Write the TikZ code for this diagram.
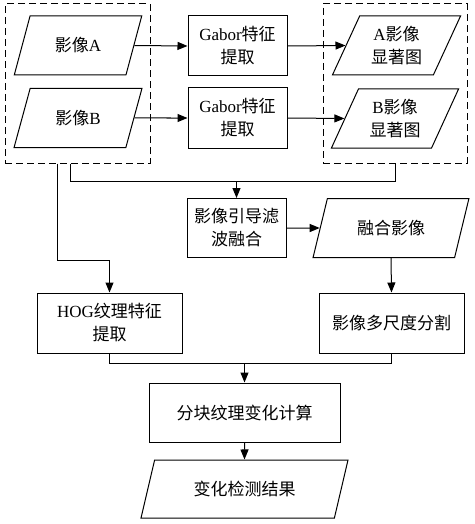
\documentclass[tikz,border=0pt]{standalone}
\usepackage{fontspec}
\setmainfont{Liberation Serif}
\newfontfamily\cjk{Noto Sans CJK SC}
\usetikzlibrary{shapes.geometric,arrows.meta}
\tikzset{
  base/.style={draw, line width=1pt, align=center, inner sep=0pt, font=\fontsize{17}{23}\selectfont},
  procbox/.style={base, rectangle},
  databox/.style={base, trapezium, trapezium left angle=64, trapezium right angle=116, trapezium stretches=true},
  groupbox/.style={draw, line width=1pt, dash pattern=on 7pt off 4pt, rectangle, inner sep=0pt},
  conn/.style={line width=1pt},
  arr/.style={conn, -{Triangle[length=10pt,width=8pt]}}
}
\begin{document}
\begin{tikzpicture}[x=1pt,y=-1pt]
\useasboundingbox (0,0) rectangle (474,524);
% groups
\node[groupbox, minimum width=145pt, minimum height=159pt] (L) at (77.5,83.5) {};
\node[groupbox, minimum width=144pt, minimum height=159pt] (R) at (395,83.5) {};
% inputs
\node[databox, minimum width=128pt, minimum height=59pt] (pA) at (78,45.5) {{\cjk 影像}A};
\node[databox, minimum width=128pt, minimum height=59pt] (pB) at (78,118) {{\cjk 影像}B};
% gabor
\node[procbox, minimum width=99pt, minimum height=60pt] (gA) at (237.5,46) {Gabor{\cjk 特征}\\{\cjk 提取}};
\node[procbox, minimum width=99pt, minimum height=60pt] (gB) at (237.5,118) {Gabor{\cjk 特征}\\{\cjk 提取}};
% saliency
\node[databox, minimum width=129pt, minimum height=59pt] (sA) at (396.5,45.5) {A{\cjk 影像}\\{\cjk 显著图}};
\node[databox, minimum width=128pt, minimum height=59pt] (sB) at (395,118.5) {B{\cjk 影像}\\{\cjk 显著图}};
% middle
\node[procbox, minimum width=99pt, minimum height=59pt] (gf) at (236.5,228) {{\cjk 影像引导滤}\\{\cjk 波融合}};
\node[databox, minimum width=156pt, minimum height=59pt] (fu) at (391,228) {{\cjk 融合影像}};
\node[procbox, minimum width=145pt, minimum height=60pt] (hog) at (109.5,323) {HOG{\cjk 纹理特征}\\{\cjk 提取}};
\node[procbox, minimum width=145pt, minimum height=60pt] (seg) at (391.5,323) {{\cjk 影像多尺度分割}};
\node[procbox, minimum width=191pt, minimum height=59pt] (blk) at (244.5,412.5) {{\cjk 分块纹理变化计算}};
\node[databox, minimum width=207pt, minimum height=58pt] (res) at (244.5,489) {{\cjk 变化检测结果}};
% connectors
\draw[arr] (pA.east) -- (gA.west);
\draw[arr] (pB.east) -- (gB.west);
\draw[arr] (gA.east) -- (sA.west);
\draw[arr] (gB.east) -- (sB.west);
\coordinate (k1) at (57,260);
\draw[arr] (L.south -| k1) -- (k1) -| (hog.north);
\coordinate (k2) at (70,181);
\draw[conn] (L.south -| k2) -- (k2) -| (R.south);
\draw[arr] (k2 -| gf.north) -- (gf.north);
\draw[arr] (gf.east) -- (fu.west);
\draw[arr] (fu.south) -- (seg.north);
\coordinate (k3) at (244.5,363);
\draw[conn] (hog.south) -- (hog.south |- k3) -- (seg.south |- k3) -- (seg.south);
\draw[arr] (k3) -- (blk.north);
\draw[arr] (blk.south) -- (res.north);
\end{tikzpicture}
\end{document}
